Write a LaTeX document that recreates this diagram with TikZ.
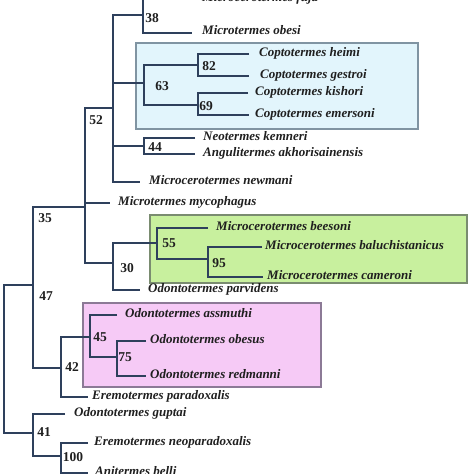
\documentclass[tikz,border=0pt]{standalone}
\usepackage{fontspec}
\setmainfont{Liberation Serif}
\definecolor{linec}{RGB}{46,64,92}
\definecolor{bluef}{RGB}{226,245,252}
\definecolor{blued}{RGB}{128,148,162}
\definecolor{greenf}{RGB}{200,240,158}
\definecolor{greend}{RGB}{122,140,112}
\definecolor{pinkf}{RGB}{246,202,246}
\definecolor{pinkd}{RGB}{140,122,150}
\tikzset{
  br/.style={draw=linec, line width=2.6bp},
  sp/.style={anchor=mid west, inner sep=0pt, font=\fontsize{13bp}{15bp}\selectfont\bfseries\itshape, text=black!88},
  bs/.style={inner sep=0pt, font=\fontsize{13.5bp}{15bp}\selectfont\bfseries, text=black!88},
  boxb/.style={fill=bluef, draw=blued, line width=1.1bp},
  boxg/.style={fill=greenf, draw=greend, line width=1.1bp},
  boxp/.style={fill=pinkf, draw=pinkd, line width=1.1bp}
}
\begin{document}
\begin{tikzpicture}[x=1bp,y=-1bp]
\useasboundingbox (0,0) rectangle (474,474);
% boxes
\draw[boxb] (136,43) rectangle (418,129);
\draw[boxg] (150,215) rectangle (467,283);
\draw[boxp] (83,303) rectangle (321,387);
% internal nodes
\coordinate (R) at (4,359);
\coordinate (n47) at (33,285);
\coordinate (n35) at (85,207);
\coordinate (n52) at (113,108);
\coordinate (n38) at (143,15);
\coordinate (n63) at (144,83);
\coordinate (n82) at (198,65);
\coordinate (n69) at (198,105);
\coordinate (n44) at (144,146);
\coordinate (n30) at (113,263);
\coordinate (n55) at (157,243);
\coordinate (n95) at (208,259);
\coordinate (n42) at (61,368);
\coordinate (n45) at (90,337);
\coordinate (n75) at (117,357);
\coordinate (n41) at (33,433);
\coordinate (n100) at (61,456);
% leaf line ends
\coordinate (fuja) at (193,-1);
\coordinate (obesi) at (192,33);
\coordinate (heimi) at (249,54);
\coordinate (gestroi) at (249,76);
\coordinate (kishori) at (248,93);
\coordinate (emersoni) at (249,115);
\coordinate (kemneri) at (195,138);
\coordinate (akhor) at (195,154);
\coordinate (newmani) at (140,182);
\coordinate (mycoph) at (110,203);
\coordinate (beesoni) at (208,228);
\coordinate (baluch) at (262,247);
\coordinate (cameroni) at (263,277);
\coordinate (parvidens) at (140,290);
\coordinate (assmuthi) at (117,315);
\coordinate (obesus) at (146,341);
\coordinate (redmanni) at (146,376);
\coordinate (paradox) at (88,397);
\coordinate (guptai) at (65,414);
\coordinate (neopara) at (88,443);
\coordinate (belli) at (88,473);
% species names
\node[sp] (tfuja) at (202,-1) {Microcerotermes fuja};
\node[sp] (tobesi) at (202,32) {Microtermes obesi};
\node[sp] (theimi) at (259,54) {Coptotermes heimi};
\node[sp] (tgestroi) at (260,76) {Coptotermes gestroi};
\node[sp] (tkishori) at (255,93) {Coptotermes kishori};
\node[sp] (temersoni) at (255,115) {Coptotermes emersoni};
\node[sp] (tkemneri) at (203,138) {Neotermes kemneri};
\node[sp] (takhor) at (203,154) {Angulitermes akhorisainensis};
\node[sp] (tnewmani) at (149,182) {Microcerotermes newmani};
\node[sp] (tmycoph) at (118,203) {Microtermes mycophagus};
\node[sp] (tbeesoni) at (216,228) {Microcerotermes beesoni};
\node[sp] (tbaluch) at (265,247) {Microcerotermes baluchistanicus};
\node[sp] (tcameroni) at (267,277) {Microcerotermes cameroni};
\node[sp] (tparvidens) at (148,290) {Odontotermes parvidens};
\node[sp] (tassmuthi) at (125,315) {Odontotermes assmuthi};
\node[sp] (tobesus) at (150,341) {Odontotermes obesus};
\node[sp] (tredmanni) at (150,376) {Odontotermes redmanni};
\node[sp] (tparadox) at (92,397) {Eremotermes paradoxalis};
\node[sp] (tguptai) at (74,414) {Odontotermes guptai};
\node[sp] (tneopara) at (94,443) {Eremotermes neoparadoxalis};
\node[sp] (tbelli) at (95,473) {Anitermes belli};
% branches
\draw[br] (n47) -| (R) |- (n41);
\draw[br] (n35) -| (n47) |- (n42);
\draw[br] (n52) -| (n35) |- (n30);
\draw[br] (n35 |- mycoph) -- (mycoph);
\draw[br] (n38) -| (n52) |- (newmani);
\draw[br] (n52 |- n63) -- (n63);
\draw[br] (n52 |- n44) -- (n44);
\draw[br] (fuja) -| (n38) |- (obesi);
\draw[br] (n82) -| (n63) |- (n69);
\draw[br] (heimi) -| (n82) |- (gestroi);
\draw[br] (kishori) -| (n69) |- (emersoni);
\draw[br] (kemneri) -| (n44) |- (akhor);
\draw[br] (n55) -| (n30) |- (parvidens);
\draw[br] (beesoni) -| (n55) |- (n95);
\draw[br] (baluch) -| (n95) |- (cameroni);
\draw[br] (n45) -| (n42) |- (paradox);
\draw[br] (assmuthi) -| (n45) |- (n75);
\draw[br] (obesus) -| (n75) |- (redmanni);
\draw[br] (guptai) -| (n41) |- (n100);
\draw[br] (neopara) -| (n100) |- (belli);
% bootstrap values
\node[bs] (b38) at (152,18) {38};
\node[bs] (b63) at (162,86) {63};
\node[bs] (b82) at (209,66) {82};
\node[bs] (b69) at (206,106) {69};
\node[bs] (b44) at (155,147) {44};
\node[bs] (b52) at (96,120) {52};
\node[bs] (b35) at (45,218) {35};
\node[bs] (b30) at (127,268) {30};
\node[bs] (b55) at (169,243) {55};
\node[bs] (b95) at (219,263) {95};
\node[bs] (b47) at (46,296) {47};
\node[bs] (b45) at (100,337) {45};
\node[bs] (b75) at (125,357) {75};
\node[bs] (b42) at (72,367) {42};
\node[bs] (b41) at (44,432) {41};
\node[bs] (b100) at (73,457) {100};
\end{tikzpicture}
\end{document}
